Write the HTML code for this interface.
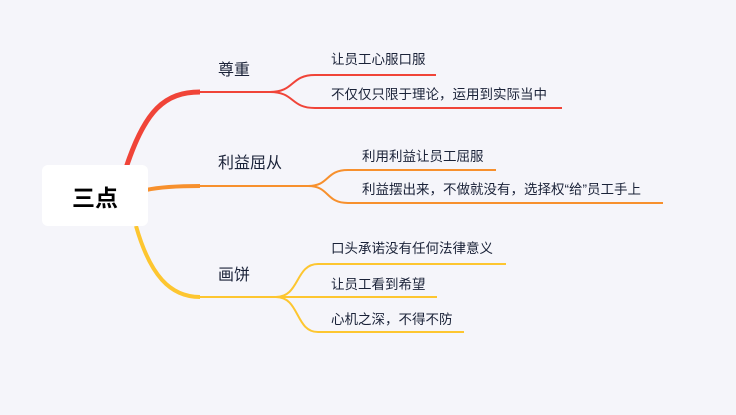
<!DOCTYPE html>
<html><head><meta charset="utf-8"><style>
body{margin:0;width:736px;height:415px;background:#f5f5fa;position:relative;overflow:hidden;font-family:"Liberation Sans","Noto Sans CJK SC",sans-serif;color:#1a2238}
.t{position:absolute;white-space:nowrap;line-height:1}
.m{font-size:16px}
.s{font-size:13.5px}
.box{position:absolute;left:42px;top:165px;width:106px;height:61px;background:#fff;border-radius:6px;font-size:23px;font-weight:bold;color:#000;display:flex;align-items:center;justify-content:center}
</style></head><body>
<svg width="736" height="415" style="position:absolute;left:0;top:0" fill="none">
<path d="M126 168 C145 110 165 92 200 92" stroke="#f04438" stroke-width="5"/>
<path d="M195 92 L270 92 C295 92 290 75 315 75 L436 75" stroke="#f04438" stroke-width="2"/>
<path d="M270 92 C295 92 290 108 315 108 L562 108" stroke="#f04438" stroke-width="2"/>
<path d="M146 190 C160 187 175 186 200 186" stroke="#f7902d" stroke-width="4"/>
<path d="M195 186 L308 186 C330 186 325 170 348 170 L496 170" stroke="#f7902d" stroke-width="2"/>
<path d="M308 186 C330 186 325 203 348 203 L663 203" stroke="#f7902d" stroke-width="2"/>
<path d="M136 226 C150 275 170 297 200 297" stroke="#fdc630" stroke-width="4"/>
<path d="M195 297 L276 297 C300 297 295 264 318 264 L506 264" stroke="#fdc630" stroke-width="2"/>
<path d="M276 297 L437 297" stroke="#fdc630" stroke-width="2"/>
<path d="M276 297 C300 297 295 332 318 332 L464 332" stroke="#fdc630" stroke-width="2"/>
</svg>
<div class="box">三点</div>
<div class="t m" style="left:218px;top:63px">尊重</div>
<div class="t m" style="left:218px;top:156px">利益屈从</div>
<div class="t m" style="left:218px;top:268px">画饼</div>
<div class="t s" style="left:331px;top:53px">让员工心服口服</div>
<div class="t s" style="left:331px;top:88px">不仅仅只限于理论，运用到实际当中</div>
<div class="t s" style="left:362px;top:150px">利用利益让员工屈服</div>
<div class="t s" style="left:362px;top:183px">利益摆出来，不做就没有，选择权“给”员工手上</div>
<div class="t s" style="left:331px;top:242px">口头承诺没有任何法律意义</div>
<div class="t s" style="left:331px;top:278px">让员工看到希望</div>
<div class="t s" style="left:331px;top:313px">心机之深，不得不防</div>
</body></html>
